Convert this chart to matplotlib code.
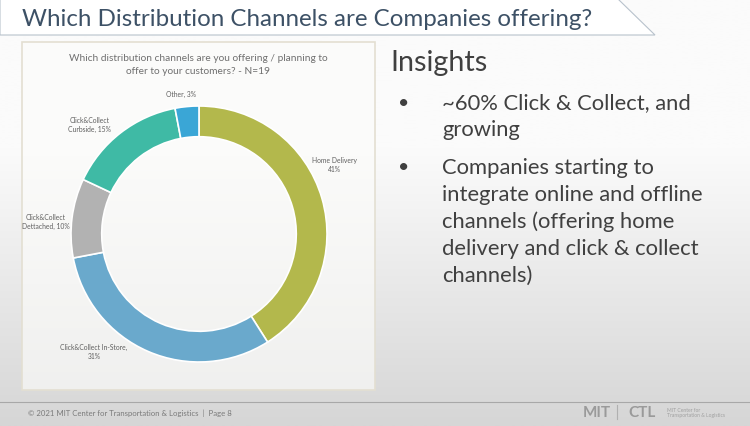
import numpy as np
import matplotlib
matplotlib.use("Agg")
import matplotlib.pyplot as plt
import matplotlib.patches as mpatches

# data
channels = ["Home Delivery", "Click&Collect In-Store", "Click&Collect Dettached",
            "Click&Collect Curbside", "Other"]
shares = [41, 31, 10, 15, 3]
label_texts = ["Home Delivery\n41%", "Click&Collect In-Store,\n31%",
               "Click&Collect\nDettached, 10%", "Click&Collect\nCurbside, 15%",
               "Other, 3%"]
colors = ["#b3b84c", "#6aa9cc", "#b2b2b2", "#3fbaa5", "#3aa6d6"]

slide_title = "Which Distribution Channels are Companies offering?"
chart_title = "Which distribution channels are you offering / planning to\noffer to your customers? - N=19"
insight_bullets = [
    ["~60% Click & Collect, and", "growing"],
    ["Companies starting to", "integrate online and offline",
     "channels (offering home", "delivery and click & collect", "channels)"],
]
footer = "\u00a9 2021 MIT Center for Transportation & Logistics  |  Page 8"

FONT = "Lato"
W, H = 750, 427

fig = plt.figure(figsize=(7.5, 4.27), dpi=100)
bg = fig.add_axes([0, 0, 1, 1])
bg.set_xlim(0, W)
bg.set_ylim(H, 0)
bg.axis("off")

# slide background gradient
grad = np.linspace(0, 1, 256).reshape(-1, 1)
grad = np.clip((grad - 0.35) / 0.65, 0, 1)
bg.imshow(grad, extent=[0, W, H, 0], cmap=matplotlib.colors.LinearSegmentedColormap.from_list(
    "bg", ["#fbfbfb", "#d6d6d6"]), aspect="auto", zorder=0)

# title banner
banner = mpatches.Polygon([(0, 0), (618, 0), (655, 36), (0, 36)], closed=True,
                          facecolor="white", edgecolor="#b8c2cc", linewidth=0.8, zorder=1)
bg.add_patch(banner)
bg.text(22, 19, slide_title, fontsize=17.4, color="#3d5166", family=FONT,
        va="center", ha="left", zorder=2)

# chart box (semi-transparent so the slide gradient shows through)
box = mpatches.Rectangle((22, 43), 353, 348, facecolor=(0.99, 0.99, 0.98, 0.65),
                         edgecolor="#e3dfd2", linewidth=1.2, zorder=1)
bg.add_patch(box)
bg.text(198, 65, chart_title, fontsize=7.3, color="#6f6f6f", family=FONT,
        ha="center", va="center", linespacing=1.45, zorder=2)

# insights
bg.text(390, 63, "Insights", fontsize=20.7, color="#404040", family=FONT,
        va="center", ha="left", zorder=2)
y = 103
for lines in insight_bullets:
    bg.text(398, y, "\u2022", fontsize=14, color="#404040", family=FONT,
            va="center", ha="left", zorder=2)
    for ln in lines:
        bg.text(442, y, ln, fontsize=15.8, color="#404040", family=FONT,
                va="center", ha="left", zorder=2)
        y += 27
    y += 11

# footer
bg.plot([0, W], [403, 403], color="#a8a8a8", linewidth=0.8, zorder=2)
bg.text(28, 413, footer, fontsize=5.6, color="#7a7a7a", family=FONT,
        va="center", ha="left", zorder=2)
bg.text(583, 413, "MIT", fontsize=11, color="#9a9a9a", family=FONT, weight="bold",
        va="center", ha="left", zorder=2)
bg.plot([617, 617], [406, 420], color="#b0b0b0", linewidth=0.8, zorder=2)
bg.text(628, 413, "CTL", fontsize=11, color="#9a9a9a", family=FONT, weight="bold",
        va="center", ha="left", zorder=2)
bg.text(667, 413, "MIT Center for\nTransportation & Logistics", fontsize=3.6,
        color="#a0a0a0", family=FONT, va="center", ha="left", linespacing=1.2, zorder=2)

# donut
cx, cy, r = 199, 235, 128
ax = fig.add_axes([(cx - r) / W, (H - cy - r) / H, 2 * r / W, 2 * r / H])
ax.pie(shares, colors=colors, startangle=90, counterclock=False, radius=1,
       wedgeprops=dict(width=0.24, edgecolor="white", linewidth=1.2))
ax.set_xlim(-1, 1)
ax.set_ylim(-1, 1)
ax.axis("off")

# data labels on top of everything (figure coords)
label_pos = [(334, 165), (94, 352), (46, 222), (90, 125), (181, 94)]
for (lx, ly), txt in zip(label_pos, label_texts):
    fig.text(lx / W, 1 - ly / H, txt, fontsize=4.9, color="#5f5f5f", family=FONT,
             ha="center", va="center", linespacing=1.4)

fig.savefig("out.png", dpi=100, facecolor="white")
